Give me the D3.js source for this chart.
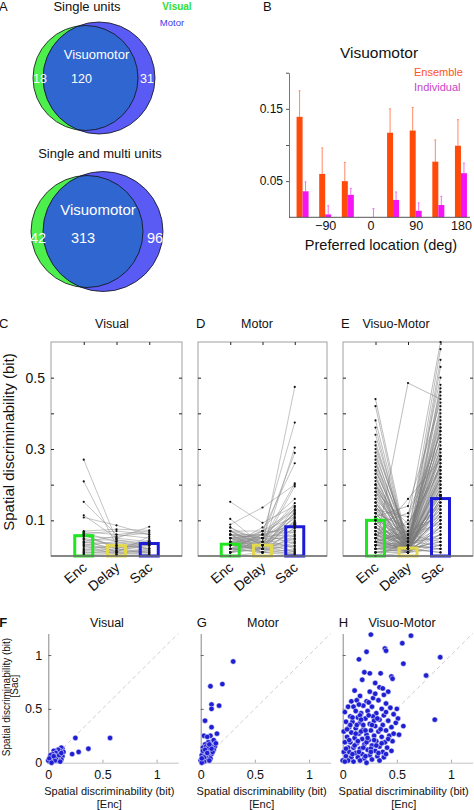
<!DOCTYPE html>
<html>
<head>
<meta charset="utf-8">
<script src="https://cdn.jsdelivr.net/npm/d3@7"></script>
<style>
body { margin: 0; background: #fff; }
svg { display: block; }
text { font-family: 'Liberation Sans', Arial, sans-serif; fill: #111; }
</style>
</head>
<body>
<script>
// ---- A: venn counts
var vennTitles = ["Single units", "Single and multi units"];
var vennVisualOnly = [18, 42];
var vennBoth = [120, 313];
var vennMotorOnly = [31, 96];

// ---- B: ensemble vs individual, per preferred location
var prefLocations = [-135, -90, -45, 0, 45, 90, 135, 180];
var ensembleMean = [0.139, 0.060, 0.050, 0, 0.117, 0.120, 0.077, 0.099];
var ensembleErr  = [0.036, 0.036, 0.026, 0, 0.033, 0.032, 0.030, 0.036];
var individualMean = [0.036, 0.004, 0.031, 0, 0.024, 0.009, 0.017, 0.061];
var individualErr  = [0.013, 0.012, 0.009, 0.012, 0.011, 0.011, 0.012, 0.014];
var bTickX = [-90, 0, 90, 180];
var bTickY = [0.05, 0.1, 0.15, 0.2];
var bTickYLabels = ["0.05", "", "0.15", ""];

// ---- C-E: per unit [Enc, Delay, Sac]
var phases = ["Enc", "Delay", "Sac"];
var cdTickY = [0.1, 0.2, 0.3, 0.4, 0.5];
var cdTickYLabels = ["0.1", "", "0.3", "", "0.5"];

var visualUnits = [
  [0.27,0.045,0.03],[0.209,0.03,0.02],[0.152,0.06,0.07],[0.114,0.05,0.082],[0.108,0.086,0.06],
  [0.07,0.075,0.072],[0.068,0.06,0.05],[0.065,0.04,0.03],[0.062,0.07,0.06],[0.06,0.02,0.045],
  [0.055,0.05,0.04],[0.05,0.03,0.02],[0.048,0.01,0.055],[0.045,0.045,0.035],[0.04,0.02,0.01],
  [0.038,0.035,0.03],[0.035,0.015,0.04],[0.03,0.04,0.02],[0.028,0.005,0.012],[0.025,0.025,0.03],
  [0.02,0.01,0.005],[0.018,0.03,0.025],[0.015,0.02,0.01],[0.012,0.005,0.02],[0.01,0.015,0.008],
  [0.008,0.01,0.015],[0.005,0.002,0.004],[0.04,0.055,0.065],[0.058,0.025,0.015],[0.032,0.012,0.035]
];
var motorUnits = [
  [0.152,0.093,0.14],[0.088,0.136,0.20],[0.104,0.03,0.12],[0.02,0.03,0.474],[0.05,0.06,0.374],
  [0.03,0.02,0.304],[0.06,0.05,0.289],[0.04,0.07,0.26],[0.01,0.04,0.204],[0.07,0.03,0.195],
  [0.03,0.05,0.148],[0.05,0.02,0.135],[0.02,0.06,0.128],[0.06,0.04,0.12],[0.04,0.01,0.115],
  [0.03,0.07,0.11],[0.07,0.05,0.105],[0.01,0.02,0.10],[0.08,0.03,0.095],[0.02,0.04,0.09],
  [0.05,0.06,0.085],[0.06,0.01,0.08],[0.03,0.03,0.078],[0.04,0.05,0.072],[0.07,0.02,0.07],
  [0.01,0.07,0.065],[0.05,0.04,0.06],[0.02,0.01,0.058],[0.06,0.06,0.055],[0.04,0.02,0.05],
  [0.03,0.05,0.048],[0.08,0.04,0.045],[0.01,0.03,0.04],[0.05,0.01,0.038],[0.02,0.06,0.035],
  [0.07,0.03,0.03],[0.03,0.02,0.028],[0.04,0.04,0.025],[0.06,0.05,0.02],[0.02,0.01,0.018],
  [0.05,0.03,0.015],[0.01,0.02,0.012],[0.03,0.04,0.01],[0.04,0.01,0.008],[0.02,0.03,0.005],
  [0.06,0.02,0.003],[0.00,0.01,0.002],[0.01,0.05,0.14],[0.03,0.08,0.16],[0.07,0.07,0.13],
  [0.02,0.02,0.125],[0.05,0.05,0.118],[0.04,0.03,0.108],[0.06,0.02,0.098],[0.03,0.06,0.088]
];
var visuomotorUnits = [
  [0.44,0.02,0.30],[0.42,0.01,0.25],[0.34,0.03,0.22],[0.30,0.05,0.38],[0.29,0.02,0.45],
  [0.28,0.04,0.20],[0.27,0.01,0.33],[0.26,0.06,0.28],[0.25,0.02,0.18],[0.24,0.03,0.41],
  [0.23,0.01,0.26],[0.22,0.04,0.35],[0.21,0.02,0.15],[0.20,0.07,0.30],[0.20,0.03,0.22],
  [0.19,0.01,0.12],[0.18,0.05,0.27],[0.18,0.02,0.19],[0.17,0.03,0.33],[0.16,0.01,0.24],
  [0.16,0.06,0.14],[0.15,0.02,0.29],[0.15,0.04,0.21],[0.14,0.01,0.36],[0.14,0.03,0.17],
  [0.13,0.05,0.25],[0.13,0.02,0.11],[0.12,0.08,0.31],[0.12,0.01,0.20],[0.11,0.03,0.42],
  [0.11,0.02,0.16],[0.10,0.04,0.23],[0.10,0.01,0.09],[0.10,0.06,0.28],[0.09,0.02,0.18],
  [0.09,0.03,0.13],[0.09,0.12,0.34],[0.08,0.01,0.22],[0.08,0.05,0.15],[0.08,0.02,0.26],
  [0.07,0.03,0.10],[0.07,0.01,0.19],[0.07,0.04,0.30],[0.06,0.02,0.14],[0.06,0.09,0.24],
  [0.06,0.01,0.08],[0.06,0.03,0.17],[0.05,0.02,0.39],[0.05,0.05,0.12],[0.05,0.01,0.21],
  [0.05,0.16,0.27],[0.04,0.03,0.07],[0.04,0.02,0.16],[0.04,0.07,0.11],[0.04,0.01,0.23],
  [0.03,0.04,0.13],[0.03,0.02,0.06],[0.03,0.01,0.19],[0.03,0.06,0.09],[0.02,0.03,0.15],
  [0.02,0.01,0.05],[0.02,0.02,0.11],[0.02,0.485,0.44],[0.01,0.03,0.08],[0.01,0.01,0.14],
  [0.01,0.02,0.04],[0.00,0.04,0.10],[0.00,0.01,0.06],[0.03,0.10,0.60],[0.06,0.05,0.58],
  [0.09,0.03,0.55],[0.12,0.02,0.53],[0.04,0.07,0.50],[0.15,0.01,0.48],[0.08,0.04,0.47],
  [0.20,0.02,0.46],[0.11,0.14,0.43],[0.02,0.03,0.40],[0.17,0.05,0.37],[0.07,0.02,0.36],
  [0.32,0.03,0.12],[0.36,0.01,0.08],[0.24,0.04,0.05],[0.22,0.02,0.10],[0.19,0.06,0.04],
  [0.14,0.02,0.03],[0.12,0.03,0.06],[0.10,0.01,0.02],[0.08,0.02,0.04],[0.06,0.03,0.02],
  [0.05,0.01,0.03],[0.04,0.02,0.01],[0.03,0.03,0.02],[0.02,0.04,0.03],[0.01,0.02,0.01],
  [0.13,0.11,0.32],[0.18,0.09,0.25],[0.26,0.02,0.16],[0.31,0.04,0.35],[0.38,0.02,0.28]
];
var visualMeans = [0.057, 0.029, 0.035], visualSem = [0.012, 0.010, 0.009];
var motorMeans = [0.033, 0.030, 0.082], motorSem = [0.006, 0.005, 0.013];
var visuomotorMeans = [0.100, 0.022, 0.161], visuomotorSem = [0.011, 0.004, 0.013];

// ---- F-H: per unit [Enc, Sac]
var scatterTicks = [0, 0.5, 1];
var scatterTickLabels = ["0", "0.5", "1"];
var visualScatter = [
  [0.57,0.23],[0.25,0.23],[0.37,0.13],[0.28,0.10],[0.22,0.08],[0.13,0.13],[0.12,0.14],[0.14,0.10],
  [0.11,0.11],[0.10,0.09],[0.13,0.06],[0.09,0.12],[0.06,0.11],[0.05,0.11],[0.08,0.07],[0.10,0.05],
  [0.07,0.09],[0.04,0.08],[0.12,0.03],[0.09,0.03],[0.06,0.06],[0.03,0.05],[0.02,0.04],[0.05,0.03],
  [0.08,0.02],[0.11,0.01],[0.03,0.02],[0.01,0.01],[0.04,0.01],[0.07,0.04],[0.02,0.07],[0.06,0.02],
  [0.10,0.07],[0.00,0.02],[0.01,0.04],[0.03,0.00],[0.12,0.09],[0.05,0.06]
];
var motorScatter = [
  [0.30,0.94],[0.20,0.73],[0.09,0.71],[0.10,0.54],[0.10,0.50],[0.17,0.53],[0.04,0.39],[0.10,0.33],
  [0.15,0.27],[0.09,0.25],[0.03,0.25],[0.06,0.24],[0.13,0.15],[0.11,0.20],[0.07,0.19],[0.04,0.17],
  [0.09,0.16],[0.12,0.12],[0.06,0.13],[0.02,0.14],[0.05,0.10],[0.08,0.11],[0.10,0.08],[0.03,0.09],
  [0.07,0.07],[0.04,0.06],[0.01,0.07],[0.06,0.04],[0.09,0.04],[0.02,0.03],[0.05,0.02],[0.03,0.01],
  [0.00,0.02],[0.01,0.00],[0.08,0.02],[0.12,0.21],[0.14,0.18],[0.02,0.11],[0.05,0.15],[0.07,0.14],
  [0.04,0.12],[0.11,0.10],[0.03,0.05],[0.06,0.09],[0.01,0.04],[0.10,0.13],[0.08,0.17]
];
var visuomotorScatter = [
  [0.26,1.19],[0.63,1.18],[0.55,1.11],[0.22,1.03],[0.39,1.06],[0.40,1.04],[0.90,0.98],[0.15,0.96],
  [0.56,0.92],[0.77,0.81],[0.20,0.84],[0.25,0.83],[0.35,0.83],[0.45,0.80],[0.85,0.40],[0.56,0.34],
  [0.51,0.41],[0.18,0.77],[0.30,0.74],[0.46,0.78],[0.34,0.70],[0.37,0.69],[0.25,0.66],[0.16,0.62],
  [0.28,0.60],[0.38,0.63],[0.42,0.66],[0.08,0.57],[0.13,0.58],[0.22,0.57],[0.33,0.58],[0.40,0.55],
  [0.05,0.52],[0.10,0.52],[0.19,0.53],[0.27,0.52],[0.36,0.50],[0.44,0.51],[0.50,0.50],[0.02,0.47],
  [0.12,0.48],[0.17,0.46],[0.23,0.48],[0.31,0.46],[0.38,0.44],[0.47,0.45],[0.07,0.43],[0.14,0.42],
  [0.21,0.41],[0.28,0.43],[0.34,0.40],[0.42,0.39],[0.49,0.37],[0.03,0.38],[0.09,0.38],[0.16,0.37],
  [0.25,0.36],[0.30,0.34],[0.37,0.35],[0.45,0.33],[0.06,0.33],[0.12,0.32],[0.19,0.31],[0.26,0.30],
  [0.33,0.29],[0.40,0.30],[0.01,0.29],[0.08,0.28],[0.15,0.27],[0.22,0.26],[0.29,0.25],[0.36,0.24],
  [0.43,0.25],[0.04,0.24],[0.11,0.23],[0.18,0.22],[0.24,0.21],[0.31,0.20],[0.39,0.19],[0.46,0.20],
  [0.02,0.19],[0.07,0.19],[0.13,0.18],[0.20,0.17],[0.27,0.16],[0.34,0.15],[0.41,0.14],[0.05,0.14],
  [0.10,0.14],[0.16,0.13],[0.23,0.12],[0.30,0.11],[0.37,0.10],[0.45,0.11],[0.01,0.10],[0.06,0.10],
  [0.12,0.09],[0.18,0.08],[0.25,0.07],[0.32,0.06],[0.38,0.05],[0.03,0.06],[0.08,0.05],[0.14,0.05],
  [0.20,0.04],[0.27,0.03],[0.34,0.02],[0.00,0.02],[0.05,0.02],[0.10,0.01],[0.16,0.02],[0.22,0.00],
  [0.02,0.01],[0.09,0.08],[0.15,0.10],[0.21,0.06],[0.26,0.13],[0.33,0.09],[0.40,0.08],[0.12,0.27],
  [0.19,0.35],[0.24,0.44],[0.29,0.39],[0.35,0.31],[0.17,0.29],[0.04,0.31],[0.13,0.35],[0.21,0.30],
  [0.27,0.35],[0.09,0.42],[0.16,0.44],[0.32,0.41],[0.06,0.21],[0.14,0.20],[0.22,0.19],[0.29,0.21],
  [0.36,0.18],[0.03,0.13],[0.11,0.16],[0.19,0.14],[0.26,0.10],[0.31,0.16],[0.42,0.22],[0.47,0.27],
  [0.15,0.54],[0.24,0.56],[0.30,0.64],[0.11,0.67],[0.40,0.47],[0.52,0.26],[0.07,0.35],[0.17,0.40],
  [0.23,0.23]
];

var svg = d3.select("body").append("svg").attr("width", 474).attr("height", 810);

function label(x, y, txt, size, opts) {
  opts = opts || {};
  var t = svg.append("text").attr("x", x).attr("y", y).text(txt)
    .attr("font-size", size).attr("text-anchor", opts.anchor || "middle");
  if (opts.fill) t.style("fill", opts.fill);
  if (opts.weight) t.attr("font-weight", opts.weight);
  if (opts.rotate) t.attr("transform", "rotate(" + opts.rotate + "," + x + "," + y + ")");
  return t;
}

/*
 * A: venn diagrams
 */
var vennLayout = [
  { gx: 85.5, gr: 52.5, bx: 99, br: 56, cy: 78, titleY: 11, fs: 13 },
  { gx: 87, gr: 56, bx: 103, br: 60, cy: 231.5, titleY: 158, fs: 15 }
];
var defs = svg.append("defs");
vennLayout.forEach(function(v, i) {
  defs.append("clipPath").attr("id", "vclip" + i)
    .append("circle").attr("cx", v.gx).attr("cy", v.cy).attr("r", v.gr);
  svg.append("circle").attr("cx", v.gx).attr("cy", v.cy).attr("r", v.gr).attr("fill", "#4cef4c");
  svg.append("circle").attr("cx", v.bx).attr("cy", v.cy).attr("r", v.br).attr("fill", "#5a5af4");
  svg.append("circle").attr("cx", v.bx).attr("cy", v.cy).attr("r", v.br)
    .attr("clip-path", "url(#vclip" + i + ")").attr("fill", "#2f66cf");
  svg.append("circle").attr("cx", v.gx).attr("cy", v.cy).attr("r", v.gr)
    .attr("fill", "none").attr("stroke", "#111").attr("stroke-width", 0.8);
  svg.append("circle").attr("cx", v.bx).attr("cy", v.cy).attr("r", v.br)
    .attr("fill", "none").attr("stroke", "#111").attr("stroke-width", 0.8);

  label(i === 0 ? 87 : 100, v.titleY, vennTitles[i], 13);
  label(v.gx + 11, v.cy - (i === 0 ? 19 : 17), "Visuomotor", v.fs, { fill: "#fff" });
  label(v.gx - 4, v.cy + (i === 0 ? 5 : 11), vennBoth[i], v.fs - 0.5, { fill: "#fff" });
  label(v.gx - v.gr + 7, v.cy + (i === 0 ? 5 : 11), vennVisualOnly[i], v.fs - 0.5, { fill: "#fff" });
  label(v.bx + v.br - 8, v.cy + (i === 0 ? 5 : 11), vennMotorOnly[i], v.fs - 0.5, { fill: "#fff" });
});
label(177, 10, "Visual", 10, { fill: "#2fe02f", weight: "bold" });
label(172, 26, "Motor", 9.5, { fill: "#3b3bee" });
label(-1, 11, "A", 13, { anchor: "start" });

/*
 * B: ensemble vs individual
 */
var bx = d3.scaleLinear().domain([-162, 198]).range([289, 470]);
var by = d3.scaleLinear().domain([0, 0.2]).range([217.3, 72.7]);
var bw = 6;
var gB = svg.append("g");

function errorBars(g, means, errs, offset, color) {
  prefLocations.forEach(function(loc, i) {
    if (errs[i] <= 0) return;
    var cx = bx(loc) + offset;
    g.append("line").attr("x1", cx).attr("x2", cx)
      .attr("y1", by(means[i])).attr("y2", by(means[i] + errs[i]))
      .attr("stroke", color).attr("stroke-width", 1);
    g.append("line").attr("x1", cx - 1).attr("x2", cx + 1)
      .attr("y1", by(means[i] + errs[i])).attr("y2", by(means[i] + errs[i]))
      .attr("stroke", color).attr("stroke-width", 1);
  });
}
errorBars(gB, ensembleMean, ensembleErr, -bw / 2, "#ff8a66");
errorBars(gB, individualMean, individualErr, bw / 2, "#f070f0");

gB.selectAll("rect.ens").data(ensembleMean).enter().append("rect")
  .attr("x", function(d, i) { return bx(prefLocations[i]) - bw; })
  .attr("y", function(d) { return by(d); })
  .attr("width", bw)
  .attr("height", function(d) { return by(0) - by(d); })
  .attr("fill", "#ff4a0a");
gB.selectAll("rect.ind").data(individualMean).enter().append("rect")
  .attr("x", function(d, i) { return bx(prefLocations[i]); })
  .attr("y", function(d) { return by(d); })
  .attr("width", bw)
  .attr("height", function(d) { return by(0) - by(d); })
  .attr("fill", "#f414f4");

var bAxisY = gB.append("g").attr("transform", "translate(289,0)")
  .call(d3.axisLeft(by).tickValues(bTickY).tickSize(3).tickSizeOuter(0).tickPadding(3)
    .tickFormat(function(d, i) { return bTickYLabels[i]; }));
bAxisY.select(".domain").attr("stroke", "#777");
bAxisY.selectAll(".tick line").attr("stroke", "#555");
bAxisY.selectAll("text").attr("font-size", 12).style("fill", "#111");
gB.append("line").attr("x1", 289).attr("x2", 470).attr("y1", by(0)).attr("y2", by(0))
  .attr("stroke", "#555").attr("stroke-width", 1);
var bAxisX = gB.append("g").attr("transform", "translate(0," + by(0) + ")")
  .call(d3.axisBottom(bx).tickValues(bTickX).tickSize(0).tickPadding(4)
    .tickFormat(function(d) { return d < 0 ? "\u2212" + Math.abs(d) : d; }));
bAxisX.select(".domain").remove();
bAxisX.selectAll("text").attr("font-size", 12.5).style("fill", "#111");

label(379, 58, "Visuomotor", 15.5);
label(414, 76, "Ensemble", 11, { anchor: "start", fill: "#ff5326" });
label(414, 91, "Individual", 11, { anchor: "start", fill: "#c846c8" });
label(381, 250, "Preferred location (deg)", 14.5);
label(263, 11, "B", 13, { anchor: "start" });

/*
 * C-E: discriminability per phase
 */
var phaseColors = ["#20e620", "#e2d84e", "#1c1cd6"];
var cdY = d3.scaleLinear().domain([0, 0.6]).range([556, 342]);
var cdPanels = [
  { letter: "C", title: "Visual", x0: 51, x1: 182, titleX: 112, units: visualUnits, means: visualMeans, sem: visualSem },
  { letter: "D", title: "Motor", x0: 198, x1: 327, titleX: 257, units: motorUnits, means: motorMeans, sem: motorSem },
  { letter: "E", title: "Visuo-Motor", x0: 343, x1: 473, titleX: 396, units: visuomotorUnits, means: visuomotorMeans, sem: visuomotorSem }
];

cdPanels.forEach(function(p, pi) {
  var x = d3.scalePoint().domain(phases).range([p.x0, p.x1]).padding(1);
  var g = svg.append("g");

  g.append("rect").attr("x", p.x0).attr("y", cdY(0.6)).attr("width", p.x1 - p.x0)
    .attr("height", cdY(0) - cdY(0.6)).attr("fill", "none").attr("stroke", "#a0a0a0");

  var unitLine = d3.line()
    .x(function(d, i) { return x(phases[i]); })
    .y(function(d) { return cdY(d); });
  g.selectAll("path.unit").data(p.units).enter().append("path")
    .attr("d", unitLine).attr("fill", "none")
    .attr("stroke", pi === 2 ? "#7a7a7a" : "#8a8a8a").attr("stroke-width", 0.6).attr("stroke-opacity", 0.85);

  g.selectAll("rect.bar").data(p.means).enter().append("rect")
    .attr("x", function(d, i) { return x(phases[i]) - 9; })
    .attr("y", function(d) { return cdY(d); })
    .attr("width", 18)
    .attr("height", function(d) { return cdY(0) - cdY(d); })
    .attr("fill", "none")
    .attr("stroke", function(d, i) { return phaseColors[i]; })
    .attr("stroke-width", 3);
  g.selectAll("line.sem").data(p.means).enter().append("line")
    .attr("x1", function(d, i) { return x(phases[i]); })
    .attr("x2", function(d, i) { return x(phases[i]); })
    .attr("y1", function(d) { return cdY(d); })
    .attr("y2", function(d, i) { return cdY(d + p.sem[i]); })
    .attr("stroke", function(d, i) { return phaseColors[i]; })
    .attr("stroke-width", 3);

  var dots = [];
  p.units.forEach(function(u) {
    u.forEach(function(v, i) { dots.push({ phase: phases[i], v: v }); });
  });
  g.selectAll("circle.dot").data(dots).enter().append("circle")
    .attr("cx", function(d) { return x(d.phase); })
    .attr("cy", function(d) { return cdY(d.v); })
    .attr("r", 1.1).attr("fill", "#111");

  g.append("line").attr("x1", p.x0).attr("x2", p.x1).attr("y1", cdY(0)).attr("y2", cdY(0))
    .attr("stroke", "#6e6e6e").attr("stroke-width", 1.6);

  var left = g.append("g").attr("transform", "translate(" + p.x0 + ",0)")
    .call(d3.axisLeft(cdY).tickValues(cdTickY).tickSize(-3).tickPadding(6)
      .tickFormat(function(d, i) { return pi === 0 ? cdTickYLabels[i] : ""; }));
  left.select(".domain").remove();
  left.selectAll(".tick line").attr("stroke", "#222");
  left.selectAll("text").attr("font-size", 14).style("fill", "#111");

  var right = g.append("g").attr("transform", "translate(" + p.x1 + ",0)")
    .call(d3.axisRight(cdY).tickValues(cdTickY).tickSize(-3).tickFormat(""));
  right.select(".domain").remove();
  right.selectAll(".tick line").attr("stroke", "#222");

  var top = g.append("g").attr("transform", "translate(0," + cdY(0.6) + ")")
    .call(d3.axisTop(x).tickSize(-3).tickFormat(""));
  top.select(".domain").remove();
  top.selectAll(".tick line").attr("stroke", "#222");

  phases.forEach(function(ph) {
    label(x(ph) + 4, 569, ph, 14, { anchor: "end", rotate: -40 });
  });

  label(p.titleX, 328, p.title, 12.5);
  label(p.x0 - (pi === 0 ? 52 : 2), 328, p.letter, 13, { anchor: "start" });
});
label(14, 442, "Spatial discriminability (bit)", 15, { rotate: -90 });

/*
 * F-H: Enc vs Sac scatter
 */
var sy = d3.scaleLinear().domain([0, 1.2]).range([762.7, 633.5]);
var scPanels = [
  { letter: "F", title: "Visual", x0: 48.3, titleX: 107, pts: visualScatter },
  { letter: "G", title: "Motor", x0: 200.7, titleX: 263, pts: motorScatter },
  { letter: "H", title: "Visuo-Motor", x0: 342.7, titleX: 402, pts: visuomotorScatter }
];
scPanels.forEach(function(p, pi) {
  var sx = d3.scaleLinear().domain([0, 1.2]).range([p.x0, p.x0 + 130]);
  var g = svg.append("g");

  g.append("line").attr("x1", sx(0)).attr("y1", sy(0)).attr("x2", sx(1.2)).attr("y2", sy(1.2))
    .attr("stroke", "#cfcfcf").attr("stroke-width", 1).attr("stroke-dasharray", "4,3");

  var xa = g.append("g").attr("transform", "translate(0," + sy(0) + ")")
    .call(d3.axisBottom(sx).tickValues(scatterTicks).tickSize(-3).tickSizeOuter(0).tickPadding(7)
      .tickFormat(function(d, i) { return scatterTickLabels[i]; }));
  xa.select(".domain").attr("stroke", "#c4c4c4");
  xa.selectAll(".tick line").attr("stroke", "#aaa");
  xa.selectAll("text").attr("font-size", 12.5).style("fill", "#111");

  var ya = g.append("g").attr("transform", "translate(" + p.x0 + ",0)")
    .call(d3.axisLeft(sy).tickValues(scatterTicks).tickSize(-3).tickSizeOuter(0).tickPadding(6)
      .tickFormat(function(d, i) { return pi === 0 ? scatterTickLabels[i] : ""; }));
  ya.select(".domain").attr("stroke", "#888");
  ya.selectAll(".tick line").attr("stroke", "#666");
  ya.selectAll("text").attr("font-size", 12.5).style("fill", "#111");

  g.selectAll("circle.pt").data(p.pts).enter().append("circle")
    .attr("cx", function(d) { return sx(d[0]); })
    .attr("cy", function(d) { return sy(d[1]); })
    .attr("r", 2.7)
    .attr("fill", "#1e1ed2")
    .attr("stroke", "#fff").attr("stroke-width", 0.5);

  label(p.titleX, 627, p.title, 12.5);
  label(p.x0 + (pi === 0 ? -49 : -4), 627, p.letter, 13, { anchor: "start", weight: pi === 0 ? "bold" : null });
  label(p.x0 + 61, 795, "Spatial discriminability (bit)", 11);
  label(p.x0 + 61, 808, "[Enc]", 11);
});
label(10, 697, "Spatial discriminability (bit)", 10, { rotate: -90 });
label(18, 686, "[Sac]", 10, { rotate: -90 });
</script>
</body>
</html>
